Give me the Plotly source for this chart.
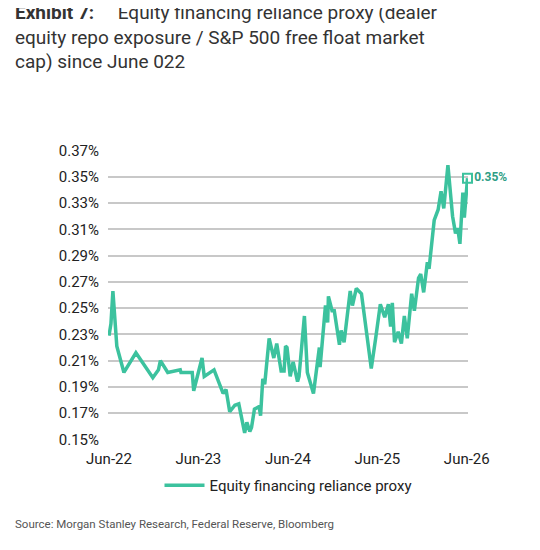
import plotly.graph_objects as go

dates = ["2022-06-01", "2022-06-09", "2022-06-17", "2022-07-03", "2022-08-01", "2022-09-19",
         "2022-11-27", "2022-12-20", "2022-12-28", "2023-01-27", "2023-03-19", "2023-03-22",
         "2023-05-07", "2023-05-13", "2023-06-16", "2023-06-25", "2023-08-04", "2023-09-10",
         "2023-09-22", "2023-10-07", "2023-10-28", "2023-11-13", "2023-12-07", "2023-12-16",
         "2023-12-28", "2024-01-04", "2024-01-16", "2024-02-04", "2024-02-10", "2024-02-19",
         "2024-02-27", "2024-03-13", "2024-03-16", "2024-04-04", "2024-04-16", "2024-05-04",
         "2024-05-16", "2024-05-22", "2024-05-28", "2024-06-10", "2024-06-22", "2024-07-10",
         "2024-07-16", "2024-08-07", "2024-08-19", "2024-09-13", "2024-10-07", "2024-10-10",
         "2024-11-01", "2024-11-10", "2024-11-13", "2024-11-28", "2024-12-07", "2024-12-28",
         "2025-01-04", "2025-01-16", "2025-02-10", "2025-02-19", "2025-03-07", "2025-03-28",
         "2025-04-19", "2025-05-07", "2025-05-25", "2025-06-13", "2025-07-01", "2025-07-16",
         "2025-07-25", "2025-08-01", "2025-08-10", "2025-08-25", "2025-09-07", "2025-09-19",
         "2025-10-01", "2025-10-19", "2025-10-30", "2025-11-16", "2025-11-25", "2025-12-07",
         "2025-12-22", "2025-12-29", "2026-01-19", "2026-02-04", "2026-02-16", "2026-02-27",
         "2026-03-16", "2026-04-04", "2026-04-16", "2026-04-25", "2026-05-04", "2026-05-16",
         "2026-05-22", "2026-06-04"]
values = [0.229, 0.238, 0.263, 0.221, 0.201, 0.216,
          0.197, 0.203, 0.210, 0.201, 0.203, 0.201,
          0.201, 0.187, 0.212, 0.198, 0.203, 0.185,
          0.188, 0.171, 0.176, 0.177, 0.155, 0.163,
          0.156, 0.159, 0.173, 0.175, 0.168, 0.196,
          0.192, 0.226, 0.227, 0.212, 0.223, 0.202,
          0.202, 0.221, 0.220, 0.198, 0.209, 0.194,
          0.198, 0.244, 0.201, 0.185, 0.220, 0.205,
          0.252, 0.239, 0.259, 0.248, 0.248, 0.222,
          0.233, 0.224, 0.263, 0.252, 0.265, 0.261,
          0.227, 0.204, 0.227, 0.253, 0.243, 0.253,
          0.236, 0.254, 0.224, 0.232, 0.223, 0.244,
          0.227, 0.261, 0.248, 0.273, 0.276, 0.262,
          0.285, 0.280, 0.317, 0.325, 0.339, 0.326,
          0.359, 0.320, 0.307, 0.311, 0.299, 0.338,
          0.319, 0.349]
tick_dates = ["2022-06-01", "2023-06-01", "2024-06-01", "2025-06-01", "2026-06-01"]
tick_labels = ["Jun-22", "Jun-23", "Jun-24", "Jun-25", "Jun-26"]
last_label = "0.35%"

green = "#3CC29E"
font = "Roboto"

fig = go.Figure()
fig.add_trace(go.Scatter(
    x=dates, y=values, mode="lines", name="Equity financing reliance proxy",
    line=dict(color=green, width=3.5)
))
# end point marker with label
fig.add_trace(go.Scatter(
    x=[dates[-1]], y=[values[-1]], mode="markers+text", showlegend=False,
    marker=dict(symbol="square-open", size=9, color=green, line=dict(width=2)),
    text=[last_label], textposition="middle right",
    textfont=dict(family=font, size=12, color="#2E9E85", weight="bold"),
    cliponaxis=False
))

fig.update_layout(
    width=540, height=550,
    margin=dict(l=100, r=80, t=142, b=118),
    plot_bgcolor="white", paper_bgcolor="white",
    font=dict(family=font, size=15, color="#222222"),
    showlegend=True,
    legend=dict(orientation="h", x=0.5, xanchor="center", y=-0.1, yanchor="top",
                font=dict(size=15, color="#222222"), itemwidth=40),
    xaxis=dict(
        type="date", range=["2022-05-28", "2026-06-06"],
        tickvals=tick_dates, ticktext=tick_labels,
        showgrid=False, zeroline=False, showline=False,
        tickfont=dict(size=15), ticklabelstandoff=8
    ),
    yaxis=dict(
        range=[0.1495, 0.3705], dtick=0.02, tick0=0.15,
        tickformat=".2f", ticksuffix="%",
        showgrid=True, gridcolor="#C8C8C8", gridwidth=1.5,
        zeroline=False, showline=False, tickfont=dict(size=15),
        ticklabelstandoff=8
    ),
    annotations=[
        dict(xref="paper", yref="paper", x=-0.265, y=1.52, xanchor="left", yanchor="top",
             align="left", showarrow=False,
             font=dict(family=font, size=19, color="#333333"),
             text="<b>Exhibit 7:</b>     Equity financing reliance proxy (dealer<br>"
                  "equity repo exposure / S&P 500 free float market<br>"
                  "cap) since June 022"),
        dict(xref="paper", yref="paper", x=-0.265, y=-0.26, xanchor="left", yanchor="top",
             showarrow=False, font=dict(family=font, size=11.5, color="#555555"),
             text="Source: Morgan Stanley Research, Federal Reserve, Bloomberg"),
    ]
)

fig.write_html("out.html")
